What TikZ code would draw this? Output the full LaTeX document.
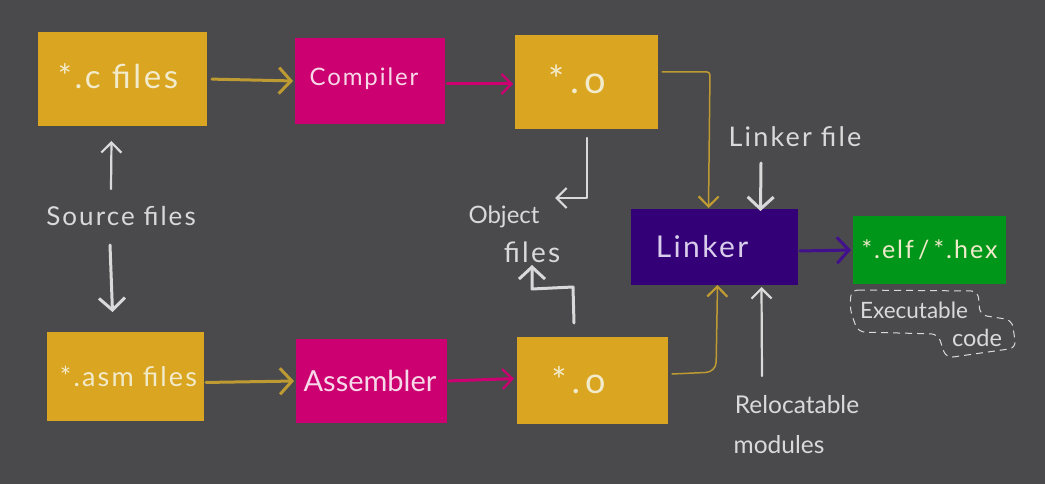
\documentclass[tikz,border=0pt]{standalone}
\usepackage{fontspec}
\setmainfont{Lato}
\newfontfamily\spaced[LetterSpace=8]{Lato}
\newfontfamily\wide[LetterSpace=14]{Lato}
\usetikzlibrary{arrows.meta,calc}
\definecolor{bg}{HTML}{4A4A4C}
\definecolor{gold}{HTML}{DAA520}
\definecolor{goldline}{HTML}{BE9B32}
\definecolor{mag}{HTML}{CC0070}
\definecolor{indigo}{HTML}{340078}
\definecolor{indigoline}{HTML}{42108C}
\definecolor{grn}{HTML}{009619}
\definecolor{chalk}{HTML}{D9D9D9}
\definecolor{cream}{HTML}{F2EBCB}
\definecolor{pinkish}{HTML}{F7D8E8}
\definecolor{lilac}{HTML}{D8CDEB}
\newcommand\sh[3]{\hspace*{#1}\raisebox{#2}{#3}}
\tikzset{
  x=1pt,y=-1pt,
  block/.style={draw=none,inner sep=0pt,outer sep=0pt,anchor=center},
  srcbox/.style={block,fill=gold,text=cream},
  toolbox/.style={block,fill=mag,text=pinkish},
  linkbox/.style={block,fill=indigo,text=lilac},
  outbox/.style={block,fill=grn,text=cream},
  note/.style={text=chalk,inner sep=0pt,anchor=center},
  bighead/.style={line cap=round,line join=round,-{Straight Barb[length=12pt,width=26pt,line width=3pt]}},
  midhead/.style={line cap=round,line join=round,-{Straight Barb[length=10pt,width=20pt,line width=2.2pt]}},
  goldthick/.style={bighead,draw=goldline,line width=3pt},
  goldthin/.style={midhead,draw=goldline,line width=1.5pt},
  magline/.style={midhead,draw=mag,line width=3pt},
  purpline/.style={bighead,draw=indigoline,line width=3pt},
  chalkline/.style={midhead,draw=chalk,line width=2.2pt},
  chalkthick/.style={bighead,draw=chalk,line width=3pt}
}
\begin{document}
\begin{tikzpicture}
\useasboundingbox[fill=bg] (0,0) rectangle (1045,484);
% boxes
\node[srcbox,minimum width=169pt,minimum height=94pt,font=\spaced\fontsize{33}{36}\selectfont] (cfile) at (122.5,79) {\sh{-9pt}{6pt}{*.c files}};
\node[toolbox,minimum width=150pt,minimum height=86pt,font=\spaced\fontsize{24}{26}\selectfont] (compiler) at (370,81) {\sh{-12pt}{8pt}{Compiler}};
\node[srcbox,minimum width=143pt,minimum height=94pt,font=\wide\fontsize{38}{40}\selectfont] (objone) at (586.5,82) {\sh{-18pt}{6pt}{*.o}};
\node[srcbox,minimum width=157pt,minimum height=89pt,font=\spaced\fontsize{27}{30}\selectfont] (asmfile) at (125.5,376.5) {\sh{6pt}{0pt}{*.asm files}};
\node[toolbox,minimum width=151pt,minimum height=84pt,font=\fontsize{29}{30}\selectfont] (assembler) at (371.5,381) {\sh{-3pt}{0pt}{Assembler}};
\node[srcbox,minimum width=151pt,minimum height=87pt,font=\wide\fontsize{36}{40}\selectfont] (objtwo) at (592.5,380.5) {\sh{-28pt}{-8pt}{*.o}};
\node[linkbox,minimum width=167pt,minimum height=76pt,font=\spaced\fontsize{30}{32}\selectfont] (linker) at (714.5,247) {\sh{-25pt}{-4pt}{Linker}};
\node[outbox,minimum width=153pt,minimum height=68pt,font=\spaced\fontsize{25}{30}\selectfont] (output) at (929.5,250) {*.elf\,/\,*.hex};
% labels
\node[note,font=\spaced\fontsize{26}{30}\selectfont] (source) at (121,216) {Source files};
\node[note,font=\fontsize{24}{28}\selectfont] (object) at (504,217) {Object};
\node[note,font=\spaced\fontsize{28}{32}\selectfont] (files) at (532,252) {files};
\node[note,font=\spaced\fontsize{27}{30}\selectfont] (linkerfile) at (795,137) {Linker file};
\node[note,font=\fontsize{24.5}{28}\selectfont] (reloc) at (797,405) {Relocatable};
\node[note,font=\fontsize{24.5}{28}\selectfont] (modules) at (779,445) {modules};
\node[note,font=\fontsize{22.5}{24}\selectfont] (exec) at (914,310) {Executable};
\node[note,font=\fontsize{23.5}{24}\selectfont] (code) at (977,338) {code};
% dashed outline
\draw[chalk,line width=1pt,dash pattern=on 7pt off 5pt,rounded corners=7pt]
  (851,290) -- (978,291) -- (980,315) -- (1012,320) -- (1016,348) -- (946,358) -- (938,334) -- (858,332) -- (850,310) -- cycle;
% free ends
\coordinate (srcup) at (111,189);
\coordinate (srcdown) at (110,245);
\coordinate (objdown) at (587,138);
\coordinate (objdowncorner) at (587,198);
\coordinate (objup) at (574,323);
\coordinate (objupa) at (573,287);
\coordinate (objupb) at (532,289);
\coordinate (filesunder) at (532,265);
\coordinate (objdowntip) at (555,198);
\coordinate (lfstart) at (761,163);
\coordinate (relstart) at (762,376);
% connectors
\draw[goldthick,shorten <=5pt,shorten >=2pt] (cfile.east) -- (compiler.west);
\draw[magline,shorten <=2pt,shorten >=2pt] ([yshift=-3pt]compiler.east) -- ([yshift=-2pt]objone.west);
\draw[goldthick,shorten <=2pt,shorten >=2pt] ([yshift=-6pt]asmfile.east) -- (assembler.west);
\draw[magline,shorten <=2pt,shorten >=3pt] (assembler.east) -- ([yshift=2pt]objtwo.west);
\draw[goldthin,rounded corners=3pt] ([shift={(4pt,10pt)}]objone.east) -- (710,72) -- ([xshift=-6pt,yshift=1pt]linker.north);
\draw[goldthin,rounded corners=10pt] ([shift={(4pt,6.5pt)}]objtwo.east) -- (716,372) -- ([xshift=3pt]linker.south);
\draw[purpline,shorten <=2pt,shorten >=2pt] ([yshift=-4pt]linker.east) -- (output.west);
\draw[chalkline] (srcup) -- ([xshift=-11pt,yshift=-15pt]cfile.south);
\draw[chalkthick] (srcdown) -- ([yshift=20pt,xshift=-13pt]asmfile.north);
\draw[chalkline] (objdown) -- (objdowncorner) -- (objdowntip);
\draw[chalkthick] (objup) -- (objupa) -- (objupb) -- (filesunder);
\draw[chalkthick] (lfstart) -- ([xshift=46pt,yshift=-2pt]linker.north);
\draw[chalkline] (relstart) -- ([xshift=47pt,yshift=-2pt]linker.south);
\end{tikzpicture}
\end{document}
